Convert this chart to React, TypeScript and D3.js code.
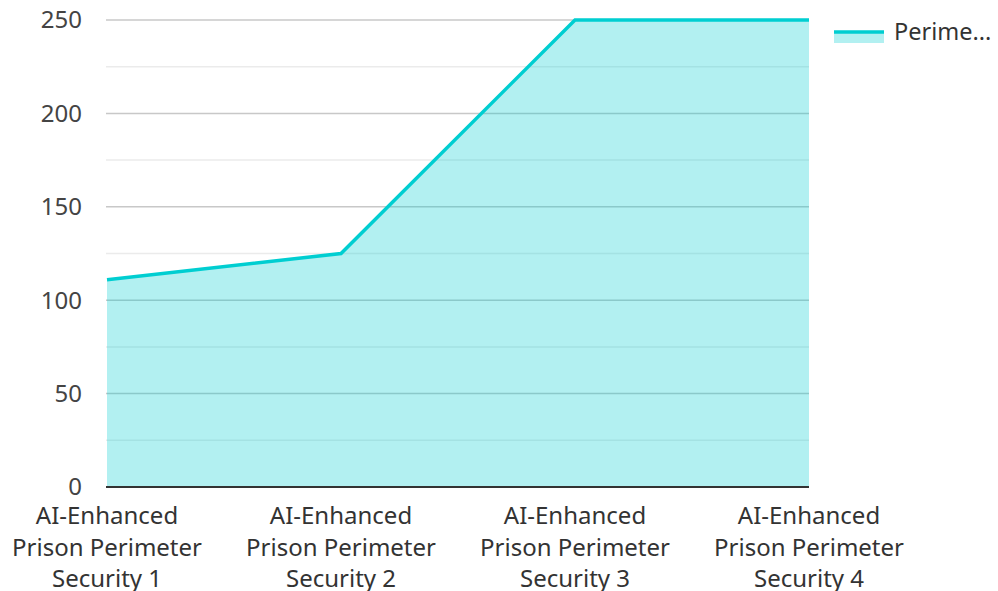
import React from "react";
import * as d3 from "d3";

const categories = [
  "AI-Enhanced Prison Perimeter Security 1",
  "AI-Enhanced Prison Perimeter Security 2",
  "AI-Enhanced Prison Perimeter Security 3",
  "AI-Enhanced Prison Perimeter Security 4",
];
const values = [111, 125, 250, 250];
const majorTicks = [0, 50, 100, 150, 200, 250];
const minorTicks = [25, 75, 125, 175, 225];
const seriesName = "Perime...";

const W = 998;
const H = 591;
const margin = { top: 20, right: 189, bottom: 104, left: 107 };
const lineColor = "#00CED1";
const font = "'Noto Sans', 'Open Sans', sans-serif";

function splitLabel(s: string): string[] {
  // "AI-Enhanced" / "Prison Perimeter" / "Security N"
  const words = s.split(" ");
  return [words[0], words[1] + " " + words[2], words.slice(3).join(" ")];
}

export default function App() {
  const x = d3
    .scalePoint<string>()
    .domain(categories)
    .range([margin.left, W - margin.right]);
  const y = d3
    .scaleLinear()
    .domain([0, 250])
    .range([H - margin.bottom, margin.top]);

  const pts = categories.map((c, i) => ({ c, v: values[i] }));

  const area = d3
    .area<{ c: string; v: number }>()
    .x((d) => x(d.c)!)
    .y0(y(0))
    .y1((d) => y(d.v));
  const line = d3
    .line<{ c: string; v: number }>()
    .x((d) => x(d.c)!)
    .y((d) => y(d.v));

  const x0 = margin.left - 1;
  const x1 = W - margin.right;

  return (
    <svg
      width={W}
      height={H}
      style={{ position: "absolute", left: 0, top: 0 }}
      fontFamily={font}
    >
      {minorTicks.map((t) => (
        <line key={"m" + t} x1={x0} x2={x1} y1={y(t)} y2={y(t)} stroke="#ebebeb" strokeWidth={1.5} />
      ))}
      {majorTicks.map((t) => (
        <line key={"g" + t} x1={x0} x2={x1} y1={y(t)} y2={y(t)} stroke="#c8c8c8" strokeWidth={1.5} />
      ))}
      <path d={area(pts)!} fill={lineColor} fillOpacity={0.3} />
      <path d={line(pts)!} fill="none" stroke={lineColor} strokeWidth={3.5} />
      <line x1={x0} x2={x1} y1={y(0)} y2={y(0)} stroke="#333" strokeWidth={2} />
      {majorTicks.map((t) => (
        <text
          key={"t" + t}
          x={82}
          y={y(t)}
          dy="0.35em"
          textAnchor="end"
          fontSize={24}
          fill="#444"
        >
          {t}
        </text>
      ))}
      {categories.map((c) => (
        <text key={c} x={x(c)} y={524} textAnchor="middle" fontSize={24} fill="#333">
          {splitLabel(c).map((l, i) => (
            <tspan key={i} x={x(c)} dy={i === 0 ? 0 : 31.5}>
              {l}
            </tspan>
          ))}
        </text>
      ))}
      <rect x={834} y={31} width={50} height={12} fill={lineColor} fillOpacity={0.3} />
      <line x1={834} x2={884} y1={32} y2={32} stroke={lineColor} strokeWidth={3.5} />
      <text x={894} y={40} fontSize={23.5} fill="#333">
        {seriesName}
      </text>
    </svg>
  );
}
